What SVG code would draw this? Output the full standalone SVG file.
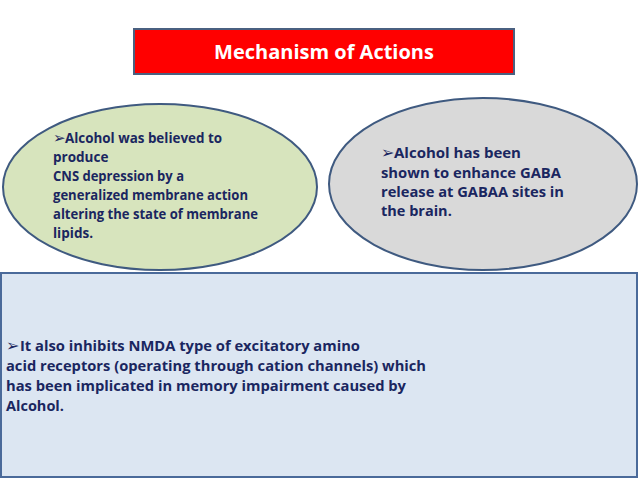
<svg xmlns="http://www.w3.org/2000/svg" width="638" height="478" viewBox="0 0 638 478">
<style>
.t{font-family:"Open Sans","Liberation Sans",sans-serif;font-weight:bold;font-size:13.5px;fill:#1a2660}
.b{font-family:"DejaVu Sans",sans-serif;font-size:15px;fill:#1a2660}
</style>
<rect width="638" height="478" fill="#fff"/>
<g id="title">
<rect x="134" y="29" width="380" height="45" fill="#ff0000" stroke="#4a6080" stroke-width="2"/>
<text x="324" y="59" text-anchor="middle" style="font-family:'Open Sans','Liberation Sans',sans-serif;font-weight:bold;font-size:20px;fill:#fff">Mechanism of Actions</text>
</g>
<g id="left">
<ellipse cx="160" cy="187" rx="157" ry="83" fill="#d7e4bd" stroke="#3f5a80" stroke-width="2"/>
<text class="t"><tspan class="b" x="53" y="143">➢</tspan><tspan x="65" y="143" textLength="157" lengthAdjust="spacingAndGlyphs">Alcohol was believed to</tspan><tspan x="53" y="162">produce</tspan><tspan x="53" y="181" textLength="131" lengthAdjust="spacingAndGlyphs">CNS depression by a</tspan><tspan x="53" y="200" textLength="195" lengthAdjust="spacingAndGlyphs">generalized membrane action</tspan><tspan x="53" y="219" textLength="205" lengthAdjust="spacingAndGlyphs">altering the state of membrane</tspan><tspan x="53" y="238">lipids.</tspan></text>
</g>
<g id="right">
<ellipse cx="483" cy="184" rx="154" ry="86" fill="#d9d9d9" stroke="#3f5a80" stroke-width="2"/>
<text class="t" style="font-size:14.5px"><tspan class="b" x="381" y="158" style="font-size:16px">➢</tspan><tspan x="394" y="158" textLength="127" lengthAdjust="spacingAndGlyphs">Alcohol has been</tspan><tspan x="381" y="178" textLength="180" lengthAdjust="spacingAndGlyphs">shown to enhance GABA</tspan><tspan x="381" y="197" textLength="183" lengthAdjust="spacingAndGlyphs">release at GABAA sites in</tspan><tspan x="381" y="216">the brain.</tspan></text>
</g>
<g id="bottom">
<rect x="1" y="273" width="636" height="204" fill="#dce6f2" stroke="#4a6a9a" stroke-width="2"/>
<text class="t" style="font-size:14.5px"><tspan class="b" x="6" y="351" style="font-size:16px">➢</tspan><tspan x="20" y="351" textLength="340" lengthAdjust="spacingAndGlyphs">It also inhibits NMDA type of excitatory amino</tspan><tspan x="6" y="371" textLength="420" lengthAdjust="spacingAndGlyphs">acid receptors (operating through cation channels) which</tspan><tspan x="6" y="391" textLength="400" lengthAdjust="spacingAndGlyphs">has been implicated in memory impairment caused by</tspan><tspan x="6" y="411">Alcohol.</tspan></text>
</g>
<g id="connectors"/>
</svg>
